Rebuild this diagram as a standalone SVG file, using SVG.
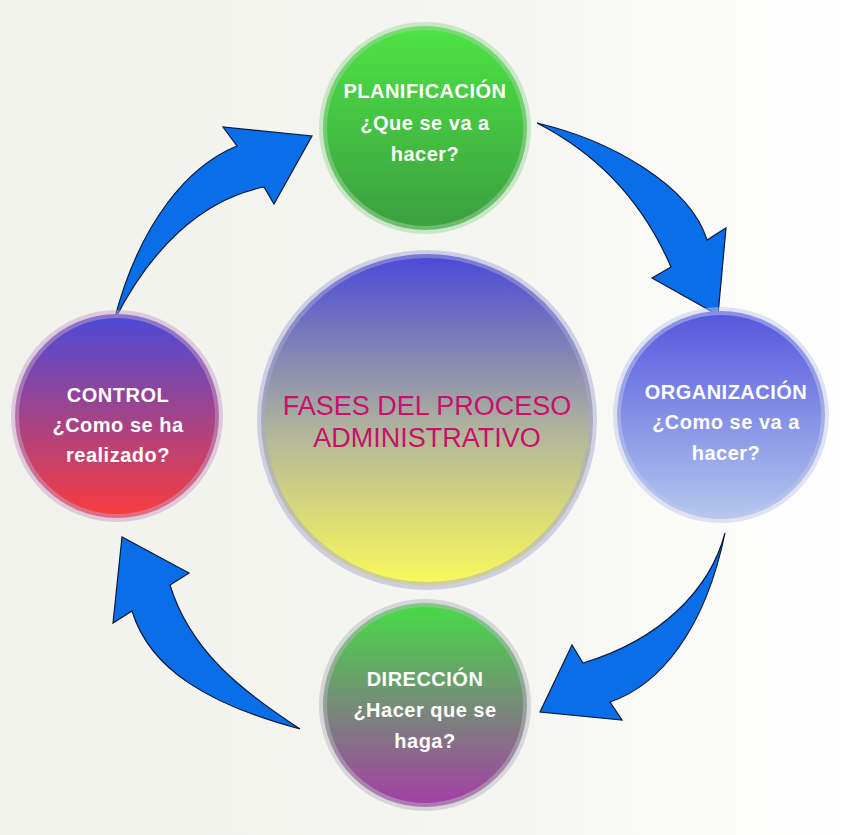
<svg xmlns="http://www.w3.org/2000/svg" width="841" height="835" viewBox="0 0 841 835">
<defs>
<linearGradient id="bg" x1="0" y1="0" x2="1" y2="0"><stop offset="0" stop-color="#f1f2ec"/><stop offset="0.6" stop-color="#f5f6f1"/><stop offset="1" stop-color="#ffffff"/></linearGradient>
<linearGradient id="gTop" x1="0" y1="0" x2="0" y2="1"><stop offset="0" stop-color="#4de445"/><stop offset="1" stop-color="#3b9e3f"/></linearGradient>
<linearGradient id="gRight" x1="0" y1="0" x2="0" y2="1"><stop offset="0" stop-color="#5456de"/><stop offset="1" stop-color="#b4c8ee"/></linearGradient>
<linearGradient id="gBottom" x1="0" y1="0" x2="0" y2="1"><stop offset="0" stop-color="#46dc46"/><stop offset="1" stop-color="#a53ca8"/></linearGradient>
<linearGradient id="gLeft" x1="0" y1="0" x2="0" y2="1"><stop offset="0" stop-color="#4a4ad8"/><stop offset="1" stop-color="#fa3c3c"/></linearGradient>
<linearGradient id="gCenter" x1="0" y1="0" x2="0" y2="1"><stop offset="0" stop-color="#4a48d8"/><stop offset="0.55" stop-color="#b4b898"/><stop offset="1" stop-color="#fafa5a"/></linearGradient>
</defs>
<style>
.ring{stroke-opacity:0.5;stroke-width:8}
.lbl{font-family:"Liberation Sans",Arial,sans-serif;font-weight:bold;font-size:20px;fill:#ffffff;text-anchor:middle;letter-spacing:0.5px}
.ctr{font-family:"Liberation Sans",Arial,sans-serif;font-size:27px;fill:#c8106c;text-anchor:middle}
.arr{fill:#0a6ee8;stroke:#0a1a3a;stroke-width:1.2}
</style>
<rect width="841" height="835" fill="url(#bg)"/>
<g id="connectors">
<path class="arr" d="M537,123 C610,140 690,185 707,240 L726,228 L718,315 L652,278 L671,267 C640,195 590,150 537,123 Z"/>
<path class="arr" d="M725,533 C705,630 660,685 610,702 L622,720 L540,712 L572,645 L583,663 C660,640 710,590 725,533 Z"/>
<path class="arr" d="M300,729 C210,705 150,670 132,611 L113,623 L122,537 L189,573 L170,585 C190,650 240,690 300,729 Z"/>
<path class="arr" d="M114,321 C140,220 190,165 237,146 L223,127 L312,136 L274,204 L264,187 C200,200 150,250 114,321 Z"/>
</g>
<g id="center">
<circle cx="427" cy="420" r="166" fill="url(#gCenter)" stroke="#a8a8d8" class="ring"/>
<text class="ctr" x="427" y="415">FASES DEL PROCESO</text>
<text class="ctr" x="427" y="447">ADMINISTRATIVO</text>
</g>
<g id="planificacion">
<circle cx="425" cy="128" r="102" fill="url(#gTop)" stroke="#a0d8a0" class="ring"/>
<text class="lbl" x="425" y="98">PLANIFICACIÓN</text>
<text class="lbl" x="425" y="130">¿Que se va a</text>
<text class="lbl" x="425" y="161">hacer?</text>
</g>
<g id="organizacion">
<circle cx="721" cy="415" r="104" fill="url(#gRight)" stroke="#c0c8ec" class="ring"/>
<text class="lbl" x="726" y="399">ORGANIZACIÓN</text>
<text class="lbl" x="726" y="429">¿Como se va a</text>
<text class="lbl" x="726" y="460">hacer?</text>
</g>
<g id="direccion">
<circle cx="425" cy="705" r="102" fill="url(#gBottom)" stroke="#b8b8c0" class="ring"/>
<text class="lbl" x="425" y="686">DIRECCIÓN</text>
<text class="lbl" x="425" y="717">¿Hacer que se</text>
<text class="lbl" x="425" y="748">haga?</text>
</g>
<g id="control">
<circle cx="117" cy="416" r="102" fill="url(#gLeft)" stroke="#c8a0c8" class="ring"/>
<text class="lbl" x="118" y="402">CONTROL</text>
<text class="lbl" x="118" y="432">¿Como se ha</text>
<text class="lbl" x="118" y="462">realizado?</text>
</g>
</svg>
